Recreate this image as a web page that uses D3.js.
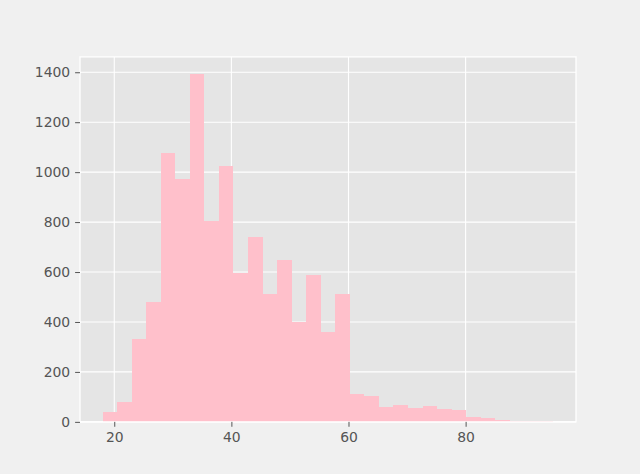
<!DOCTYPE html>
<html lang="en">
<head>
<meta charset="utf-8">
<title>Histogram</title>
<script src="https://cdn.jsdelivr.net/npm/d3@7"></script>
<style>
  body {margin: 0; background: #f0f0f0;}
  svg {display: block; background: #f0f0f0;}
  .tick text {font-family: "DejaVu Sans", sans-serif; font-size: 13.9px; fill: #555555;}
  .tick line {stroke: #555555;}
</style>
</head>
<body>
<svg width="640" height="474"></svg>
<script>
// histogram counts, 31 bins from 18 to 95
var binStart = 18, binEnd = 95
var counts = [40, 80, 332, 480, 1076, 972, 1392, 804, 1024, 598,
              740, 513, 648, 400, 588, 360, 512, 112, 104, 60,
              68, 56, 64, 52, 48, 20, 16, 8, 4, 4, 4]
var xTicks = [20, 40, 60, 80]
var yTicks = [0, 200, 400, 600, 800, 1000, 1200, 1400]

var width = 640, height = 474
var pLeft = 80, pRight = 576, pTop = 56.88, pBottom = 421.86

var binW = (binEnd - binStart) / counts.length
var bins = counts.map(function(c, i) {
  return {x0: binStart + i * binW, x1: binStart + (i + 1) * binW, n: c}
})

var pad = (binEnd - binStart) * 0.05
var x = d3.scaleLinear().domain([binStart - pad, binEnd + pad]).range([pLeft, pRight])
var y = d3.scaleLinear().domain([0, d3.max(counts) * 1.05]).range([pBottom, pTop])

var svg = d3.select('svg')

svg.append('rect')
  .attr('x', pLeft).attr('y', pTop)
  .attr('width', pRight - pLeft).attr('height', pBottom - pTop)
  .attr('fill', '#e5e5e5')

// grid
svg.append('g').selectAll('line').data(xTicks).enter().append('line')
  .attr('x1', function(d) { return x(d) }).attr('x2', function(d) { return x(d) })
  .attr('y1', pTop).attr('y2', pBottom)
  .attr('stroke', 'white').attr('stroke-width', 1.1)
svg.append('g').selectAll('line').data(yTicks).enter().append('line')
  .attr('y1', function(d) { return y(d) }).attr('y2', function(d) { return y(d) })
  .attr('x1', pLeft).attr('x2', pRight)
  .attr('stroke', 'white').attr('stroke-width', 1.1)

// bars
svg.append('g').selectAll('rect').data(bins).enter().append('rect')
  .attr('x', function(d) { return x(d.x0) })
  .attr('width', function(d) { return x(d.x1) - x(d.x0) })
  .attr('y', function(d) { return y(d.n) })
  .attr('height', function(d) { return pBottom - y(d.n) })
  .attr('fill', 'pink')
  .attr('shape-rendering', 'crispEdges')

// frame
svg.append('rect')
  .attr('x', pLeft).attr('y', pTop)
  .attr('width', pRight - pLeft).attr('height', pBottom - pTop)
  .attr('fill', 'none').attr('stroke', 'white').attr('stroke-width', 1.3)

var xAxis = svg.append('g')
  .attr('transform', 'translate(0,' + pBottom + ')')
  .call(d3.axisBottom(x).tickValues(xTicks).tickSize(4.9).tickPadding(4.9))
xAxis.select('.domain').remove()

var yAxis = svg.append('g')
  .attr('transform', 'translate(' + pLeft + ',0)')
  .call(d3.axisLeft(y).tickValues(yTicks).tickFormat(d3.format('d')).tickSize(4.9).tickPadding(4.9))
yAxis.select('.domain').remove()
</script>
</body>
</html>
